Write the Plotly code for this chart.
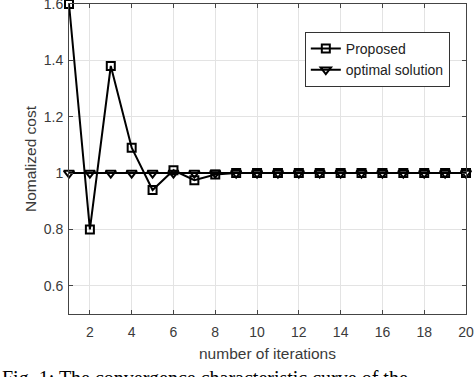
import plotly.graph_objects as go

iterations = list(range(1, 21))
proposed = [1.6, 0.8, 1.38, 1.09, 0.94, 1.01, 0.975, 0.995, 1.0, 1.0,
            1.0, 1.0, 1.0, 1.0, 1.0, 1.0, 1.0, 1.0, 1.0, 1.0]
optimal = [1.0] * 20
x_ticks = list(range(2, 21, 2))
y_ticks = [0.6, 0.8, 1.0, 1.2, 1.4, 1.6]
y_tick_text = ["0.6", "0.8", "1", "1.2", "1.4", "1.6"]

fig = go.Figure()
fig.add_trace(go.Scatter(
    x=iterations, y=proposed, name="Proposed", mode="lines+markers",
    line=dict(color="black", width=2),
    marker=dict(symbol="square-open", size=8, color="black", line=dict(width=2)),
    cliponaxis=False,
))
fig.add_trace(go.Scatter(
    x=iterations, y=optimal, name="optimal solution", mode="lines+markers",
    line=dict(color="black", width=2),
    marker=dict(symbol="triangle-down-open", size=9, color="black", line=dict(width=2)),
    cliponaxis=False,
))

tick_font = dict(family="Liberation Sans, Arial", size=14, color="#3a3a3a")
title_font = dict(family="Liberation Sans, Arial", size=15.5, color="#3a3a3a")
fig.update_layout(
    width=474, height=377,
    margin=dict(l=69, r=8, t=4, b=63, autoexpand=False),
    paper_bgcolor="white", plot_bgcolor="white",
    showlegend=True,
    legend=dict(
        x=0.594, y=0.91, xanchor="left", yanchor="top",
        bgcolor="white", bordercolor="#333333", borderwidth=1,
        font=dict(family="Liberation Sans, Arial", size=14, color="#222222"),
        tracegroupgap=0,
    ),
    xaxis=dict(
        range=[1, 20], tickvals=x_ticks, ticks="inside", ticklen=4,
        tickcolor="#444444", showline=True, linecolor="#444444", linewidth=1,
        mirror="ticks", showgrid=True, gridcolor="#e3e3e3", gridwidth=1,
        zeroline=False, tickfont=tick_font, automargin=False,
        ticklabelstandoff=5, ticklabeloverflow="allow",
        title=dict(text="number of iterations", font=title_font, standoff=9),
    ),
    yaxis=dict(
        range=[0.5, 1.6], tickvals=y_ticks, ticktext=y_tick_text, ticks="inside",
        ticklen=4, tickcolor="#444444", showline=True, linecolor="#444444",
        linewidth=1, mirror="ticks", showgrid=True, gridcolor="#e3e3e3",
        gridwidth=1, zeroline=False, tickfont=tick_font, automargin=False,
        ticklabelstandoff=2, ticklabeloverflow="allow",
        title=dict(text="Nomalized cost", font=title_font, standoff=3),
    ),
)

fig.add_annotation(
    text="Fig. 1: The convergence characteristic curve of the",
    xref="paper", yref="paper", x=-69 / 397, y=-(365 - 314) / 310,
    xanchor="left", yanchor="top", showarrow=False,
    font=dict(family="Liberation Serif, Times New Roman", size=20, color="black"),
)

fig.write_html("out.html", config={"displayModeBar": False},
               post_script="document.body.style.margin='0';")
